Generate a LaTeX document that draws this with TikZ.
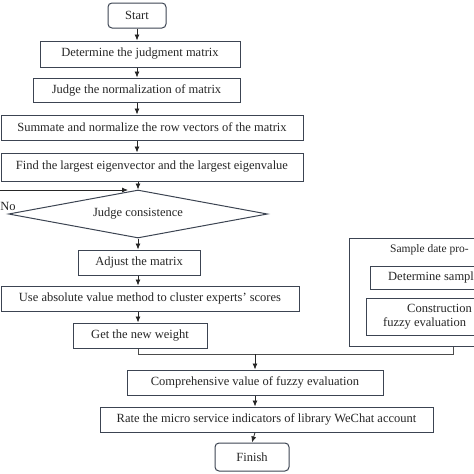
\documentclass[tikz,border=0pt]{standalone}
\usepackage{fontspec}
\setmainfont{Liberation Serif}
\usetikzlibrary{shapes.geometric,arrows.meta}
\definecolor{linecol}{RGB}{60,68,82}

\begin{document}
\begin{tikzpicture}[x=1pt,y=-1pt,
	every node/.style={font=\fontsize{12.5}{14}\selectfont,text=black!85},
	box/.style={draw=linecol,line width=1pt,rectangle,inner sep=2pt},
	termbox/.style={box,rounded corners=4pt},
	decision/.style={draw=linecol,line width=1pt,diamond,aspect=5.4,inner sep=0pt},
	flow/.style={-{Latex[length=6pt,width=5pt]},line width=0.8pt,draw=black!85}]
	\useasboundingbox (0,0) rectangle (474,474);
	\clip (0,0) rectangle (474,474);
	\node [termbox,minimum width=58,minimum height=25] (start) at (137,15.5) {Start};
	\node [box,minimum width=200,minimum height=26] (judgm) at (140,54) {Determine the judgment matrix};
	\node [box,minimum width=207,minimum height=24] (norm) at (136.5,90) {Judge the normalization of matrix};
	\node [box,minimum width=302,minimum height=25] (rowsum) at (152,127.5) {Summate and normalize the row vectors of the matrix};
	\node [box,minimum width=302,minimum height=28] (eigen) at (152,167) {Find the largest eigenvector and the largest eigenvalue};
	\node [decision,minimum width=259,minimum height=48] (consist) at (138,214) {Judge consistence};
	\node [box,minimum width=122,minimum height=25] (adjust) at (139,262.5) {Adjust the matrix};
	\node [box,minimum width=298,minimum height=25] (cluster) at (150,298.5) {Use absolute value method to cluster experts' scores};
	\node [box,minimum width=134,minimum height=25] (newweight) at (140,335.5) {Get the new weight};
	\node [box,minimum width=256,minimum height=25] (compval) at (255,382.5) {Comprehensive value of fuzzy evaluation};
	\node [box,minimum width=333,minimum height=25] (rate) at (266.5,419.5) {Rate the micro service indicators of library WeChat account};
	\node [termbox,minimum width=74,minimum height=28] (finish) at (252,457) {Finish};
	% sample data part, cut off at the right border
	\node [box,minimum width=150,minimum height=108] (sample) at (424,292) {};
	\node [box,minimum width=115,minimum height=23] (samplew) at (427.5,277.5) {};
	\node [box,minimum width=120,minimum height=37] (fuzzymat) at (426,316.5) {};
	\node [anchor=west,inner sep=0pt,font=\fontsize{11.5}{14}\selectfont] (sampletitle) at (390,250) {Sample date pro-};
	\node [anchor=west,inner sep=0pt] (samplewtext) at (388,277.5) {Determine sampl};
	\node [anchor=west,inner sep=0pt] (fuzzyone) at (407,308) {Construction};
	\node [anchor=west,inner sep=0pt] (fuzzytwo) at (383,323) {fuzzy evaluation};
	\node [inner sep=0pt] (nolabel) at (8,206) {No};
	\coordinate (nofrom) at (0,190);
	\coordinate (noend) at (128,190);
	% arrows
	\draw [flow] (start.south) -- (start.south |- judgm.north);
	\draw [flow] (start.south |- judgm.south) -- (start.south |- norm.north);
	\draw [flow] (start.south |- norm.south) -- (start.south |- rowsum.north);
	\draw [flow] (start.south |- rowsum.south) -- (start.south |- eigen.north);
	\draw [flow] (consist.north |- eigen.south) -- (consist.north);
	\draw [flow] (nofrom) -- (noend);
	\draw [flow] (consist.south) -- (consist.south |- adjust.north);
	\draw [flow] (consist.south |- adjust.south) -- (consist.south |- cluster.north);
	\draw [flow] (consist.south |- cluster.south) -- (consist.south |- newweight.north);
	\draw [line width=0.8pt,black!70] (consist.south |- newweight.south) -- ++(0,6) -| ([xshift=29pt]sample.south);
	\draw [flow] (compval.north |- 0,354) -- (compval.north);
	\draw [flow] (compval.south) -- (compval.south |- rate.north);
	\draw [flow] (compval.south |- rate.south) -- (finish.north);
\end{tikzpicture}
\end{document}
